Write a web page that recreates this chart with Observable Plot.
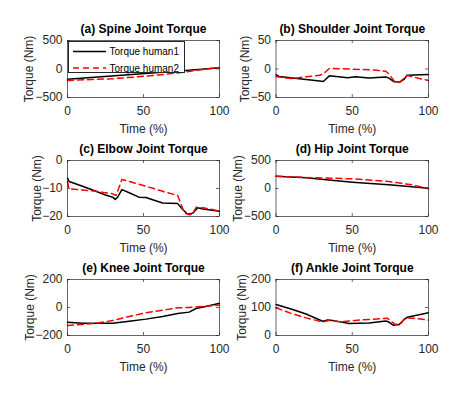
<!DOCTYPE html>
<html><head><meta charset="utf-8">
<script src="https://cdn.jsdelivr.net/npm/d3@7"></script>
<script src="https://cdn.jsdelivr.net/npm/@observablehq/plot@0.6"></script>
<style>
body{margin:0;background:#fff;}
#root{position:relative;width:474px;height:399px;overflow:hidden;background:#fff;font-family:"Liberation Sans",Arial,sans-serif;}
.panel{position:absolute;}
#legend{position:absolute;left:68px;top:40.5px;width:117px;height:32px;background:#fff;border:0.7px solid #262626;box-sizing:border-box;}
</style></head><body><div id="root"></div>
<script>
// ---- data (time in %, torque) ----
const xTicks = [0, 50, 100];

const spineT1 = [0, 20, 40, 60, 80, 100];
const spineH1 = [-180, -140, -100, -60, -20, 20];
const spineT2 = [0, 15, 30, 45, 60, 75, 90, 100];
const spineH2 = [-200, -185, -170, -140, -105, -60, -5, 25];

const shoulderT1 = [0, 2, 28.6, 31, 35, 47, 52, 61, 72, 74, 77.5, 81, 84, 86, 100];
const shoulderH1 = [-10, -13, -21, -22, -12, -15.5, -13.7, -16, -14, -16, -22.5, -23, -18, -11, -9.5];
const shoulderT2 = [0, 6.5, 11, 19.6, 28.6, 31, 35, 47, 63, 72, 74, 77.5, 81, 84, 86, 92, 100];
const shoulderH2 = [-13, -16, -16.7, -13.7, -11, -8.5, 1, 0, -1.5, -4, -8.5, -21, -23.7, -16, -11.4, -15.5, -20];

const elbowT1 = [0, 1.1, 9.9, 18.7, 25, 29.7, 31.4, 33, 35.8, 40.6, 47, 51.6, 56, 62.6, 72.5, 75.8, 79, 82.4, 85.7, 89, 100];
const elbowH1 = [-6.3, -7.5, -9.2, -11, -12.3, -13.1, -13.9, -13.1, -10.4, -11.5, -13.1, -13.2, -14, -15.2, -15.4, -17.5, -19.2, -18.8, -16.9, -17.3, -18.1];
const elbowT2 = [0, 1, 9.9, 18.7, 29.7, 31.9, 35.8, 40.6, 51.6, 62.6, 72.5, 74.6, 76.9, 80, 82.4, 84.6, 89, 100];
const elbowH2 = [-7.5, -10.1, -10.5, -11, -11.9, -12.5, -6.8, -7.5, -9.2, -11, -12.5, -15.5, -18.7, -19.4, -19, -16.7, -16.9, -18];

const hipT1 = [0, 19.6, 50, 74, 100];
const hipH1 = [220, 190, 113, 65, 6];
const hipT2 = [0, 19.6, 50, 74, 89.5, 100];
const hipH2 = [220, 196, 173, 125, 65, -6];

const kneeT1 = [0, 9.9, 29.7, 40.6, 51.6, 62.6, 72.5, 80, 84.6, 91, 100];
const kneeH1 = [-105, -112, -112, -98, -83, -64, -43, -33, -7, 7, 31];
const kneeT2 = [0, 9.9, 18.7, 29.7, 40.6, 51.6, 62.6, 72.5, 80, 89, 100];
const kneeH2 = [-129, -121, -112, -93, -64, -38, -19, -2, 0, 7, 17];

const ankleT1 = [0, 10.9, 19.7, 30.6, 33.9, 37, 48, 61, 72, 74, 76.9, 80.8, 84, 86, 100];
const ankleH1 = [111, 93, 77, 51, 55, 54, 43, 45, 52, 48, 37, 39, 57, 65, 81];
const ankleT2 = [0, 10.9, 19.7, 30.6, 35, 41.5, 52, 63, 73, 75.3, 78.6, 81.9, 84.7, 89.5, 100];
const ankleH2 = [99, 77, 63, 48, 54, 49, 54, 58, 62, 51, 39, 43, 63, 62, 55];

const titles = ["(a) Spine Joint Torque", "(b) Shoulder Joint Torque", "(c) Elbow Joint Torque",
                "(d) Hip Joint Torque", "(e) Knee Joint Torque", "(f) Ankle Joint Torque"];
const yDomains = [[-500, 500], [-50, 50], [-20, 0], [-500, 500], [-200, 200], [0, 200]];
const yTickSets = [[-500, 0, 500], [-50, 0, 50], [-20, -10, 0], [-500, 0, 500], [-200, 0, 200], [0, 100, 200]];
const seriesNames = ["Torque human1", "Torque human2"];
const xLabel = "Time (%)";
const yLabel = "Torque (Nm)";

const series = [
  [spineT1, spineH1, spineT2, spineH2],
  [shoulderT1, shoulderH1, shoulderT2, shoulderH2],
  [elbowT1, elbowH1, elbowT2, elbowH2],
  [hipT1, hipH1, hipT2, hipH2],
  [kneeT1, kneeH1, kneeT2, kneeH2],
  [ankleT1, ankleH1, ankleT2, ankleH2]
];

// ---- layout ----
const boxTops = [40, 160, 279];
const boxBottoms = [97, 216, 335];
const boxLefts = [67, 275.5];
const boxRights = [219, 428];
const yLabelDx = [-38, -31, -30, -38, -37, -34];
const axisColor = "#262626";

const root = document.getElementById("root");

titles.forEach((title, i) => {
  const col = i % 2, row = Math.floor(i / 2);
  const top = boxTops[row], bottom = boxBottoms[row];
  const left = boxLefts[col], right = boxRights[col];
  const innerH = bottom - top, innerW = right - left;
  const [t1, h1, t2, h2] = series[i];
  const d1 = t1.map((t, k) => ({t, v: h1[k]}));
  const d2 = t2.map((t, k) => ({t, v: h2[k]}));
  const yTicks = yTickSets[i];
  const svg = Plot.plot({
    width: 237,
    height: innerH + 80,
    marginTop: 40,
    marginBottom: 40,
    marginLeft: left - col * 237,
    marginRight: col * 237 + 237 - right,
    style: {background: "transparent", fontFamily: "'Liberation Sans', Arial, sans-serif", fontSize: "12px", overflow: "visible", color: axisColor},
    x: {domain: [0, 100]},
    y: {domain: yDomains[i]},
    marks: [
      Plot.line(d1, {x: "t", y: "v", stroke: "#000", strokeWidth: 1.5}),
      Plot.line(d2, {x: "t", y: "v", stroke: "#f00", strokeWidth: 1.5, strokeDasharray: "6,4"}),
      Plot.frame({stroke: axisColor, strokeWidth: 0.7}),
      Plot.tickX(xTicks, {x: d => d, insetTop: innerH - 3, stroke: axisColor, strokeWidth: 0.7}),
      Plot.tickX(xTicks, {x: d => d, insetBottom: innerH - 3, stroke: axisColor, strokeWidth: 0.7}),
      Plot.tickY(yTicks, {y: d => d, insetRight: innerW - 3, stroke: axisColor, strokeWidth: 0.7}),
      Plot.tickY(yTicks, {y: d => d, insetLeft: innerW - 3, stroke: axisColor, strokeWidth: 0.7}),
      Plot.axisX({ticks: xTicks, tickSize: 0, tickPadding: 9, label: null, fontSize: 12, fill: axisColor}),
      Plot.axisY({ticks: yTicks, tickSize: 0, tickPadding: 5, label: null, fontSize: 12, fill: axisColor}),
      Plot.text([title], {text: d => d, frameAnchor: "top", lineAnchor: "middle", dy: -11, fontWeight: "bold", fontSize: 12, fill: "#000"}),
      Plot.text([xLabel], {text: d => d, frameAnchor: "bottom", lineAnchor: "middle", dy: 32, fontSize: 12, fill: axisColor}),
      Plot.text([yLabel], {text: d => d, frameAnchor: "left", textAnchor: "middle", lineAnchor: "middle", dx: yLabelDx[i], rotate: -90, fontSize: 12, fill: axisColor})
    ]
  });
  svg.classList.add("panel");
  svg.style.left = (col * 237) + "px";
  svg.style.top = (top - 40) + "px";
  root.appendChild(svg);
});

// ---- legend (panel a) ----
const legend = document.createElement("div");
legend.id = "legend";
const ns = "http://www.w3.org/2000/svg";
const lsvg = document.createElementNS(ns, "svg");
lsvg.setAttribute("width", "117");
lsvg.setAttribute("height", "32");
lsvg.style.display = "block";
const styles = [{stroke: "#000", dash: null}, {stroke: "#f00", dash: "6,4"}];
seriesNames.forEach((name, k) => {
  const yy = k === 0 ? 9.5 : 26;
  const ln = document.createElementNS(ns, "line");
  ln.setAttribute("x1", 4); ln.setAttribute("x2", 37);
  ln.setAttribute("y1", yy); ln.setAttribute("y2", yy);
  ln.setAttribute("stroke", styles[k].stroke);
  ln.setAttribute("stroke-width", 1.5);
  if (styles[k].dash) ln.setAttribute("stroke-dasharray", styles[k].dash);
  lsvg.appendChild(ln);
  const tx = document.createElementNS(ns, "text");
  tx.setAttribute("x", 40.5);
  tx.setAttribute("y", yy);
  tx.setAttribute("dy", "0.35em");
  tx.setAttribute("font-size", "10");
  tx.setAttribute("font-family", "'Liberation Sans', Arial, sans-serif");
  tx.setAttribute("fill", "#000");
  tx.textContent = name;
  lsvg.appendChild(tx);
});
legend.appendChild(lsvg);
root.appendChild(legend);
</script>
</body></html>
